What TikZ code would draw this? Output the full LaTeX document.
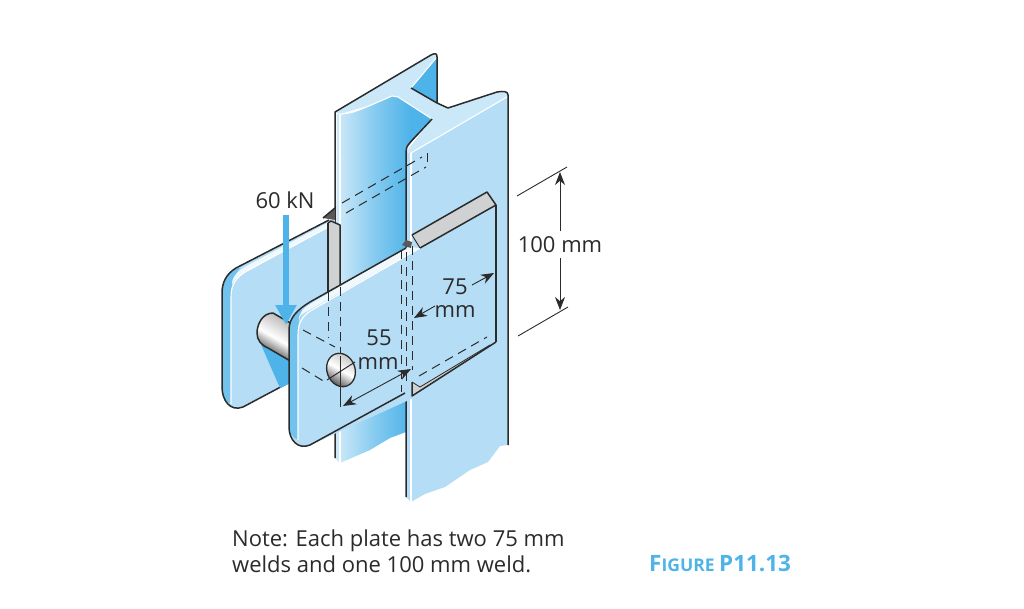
\documentclass[tikz,border=0pt]{standalone}
\usepackage{fontspec}
\setmainfont{Open Sans}
\usepackage{tikz}
\usetikzlibrary{arrows.meta}
\tikzset{>={Stealth[width=10pt,length=13pt]}}
\definecolor{inkline}{HTML}{2B2B2B}
\definecolor{faceblue}{HTML}{B5DDF5}
\definecolor{topblue}{HTML}{CBE8F8}
\definecolor{deepblue}{HTML}{4DB3E8}
\definecolor{bandblue}{HTML}{72C2EE}
\definecolor{weldgray}{HTML}{CFD1D3}
\pgfdeclarehorizontalshading{webshade}{100bp}{color(0bp)=(topblue); color(27bp)=(topblue);
  color(46bp)=(bandblue!80!topblue); color(64bp)=(deepblue); color(100bp)=(deepblue)}
\tikzset{
  outline/.style={draw=inkline,line width=1.5pt,line join=round},
  hidden/.style={draw=inkline,line width=1pt,dash pattern=on 9pt off 6pt},
  gleam/.style={draw=white,line width=1.1pt},
  dimline/.style={draw=inkline,line width=0.9pt},
  dimtext/.style={text=inkline,font=\fontsize{22}{24}\selectfont,inner sep=0pt},
}
\begin{document}
\begin{tikzpicture}[x=1pt,y=-1pt]
\useasboundingbox (0,0) rectangle (1024,608);

%% beam
\fill[deepblue] (411,88)--(437,56)--(437,103)--cycle;
\fill[topblue] (335,112)--(433,54)--(437,55)--(411,88)--(437,103)--(448,108)--(497,92)--(509,93)
  --(509,100)--(411,153)--(406,152)--(432,119)--(398,97)--(340,114)--cycle;
\draw[gleam] (411,88)--(437,57);
\shade[shading=webshade]
  (337,114) .. controls (353,113) .. (392,96)--(398,97)--(432,119)--(407,147)--(406,152)--(406,432)
  --(390,438)--(370,450)--(340,463)--(335,458)--cycle;
\fill[faceblue] (406,152)--(411,153)--(508,97)--(508,445)--(500,446)--(488,462)--(470,470)
  --(445,487)--(425,494)--(411,502)--(406,497)--cycle;
\draw[gleam] (340,114) .. controls (353,113) .. (392,96)--(398,97)--(432,119);
\draw[gleam] (340,114)--(340,463);
\draw[gleam] (411,153)--(507,97);
\draw[gleam] (411,153)--(411,502);
\draw[outline] (335,458)--(335,112)--(431,55) .. controls (435,53) and (437,53) .. (437,57)--(437,103);
\draw[outline] (411,88)--(437,103)--(448,108)--(497,92) .. controls (503,91) and (508,91) .. (508,95)--(508,445);
\draw[outline] (406,497)--(406,152) .. controls (406,145) and (408,145) .. (432,119);

%% dashed slot on the web
\draw[hidden] (342,203)--(422,157);
\draw[hidden] (346,213)--(426,167);
\draw[inkline,line width=1pt] (427,153)--(427,162);

%% rear plate
\fill[gray!70!black] (323,218)--(335,208)--(335,220)--cycle;
\fill[faceblue] (329,220) -- (335,220)--(335,400)--(290,382)--(243,407)
  .. controls (230,412) and (222,400) .. (222,387)--(222,293)
  .. controls (222,283) and (226,274) .. (236,268)--cycle;
\fill[bandblue] (222,293) .. controls (222,283) and (226,274) .. (236,268)--(240,268)
  .. controls (234,276) and (231,284) .. (231,295)--(231,404)
  .. controls (225,402) and (222,395) .. (222,387)--cycle;
\fill[white!70!topblue] (329,222)--(328,228)--(245,272) .. controls (238,276) .. (232,284)
  .. controls (232,277) and (238,270) .. (250,264)--cycle;
\draw[gleam] (328,227)--(247,271) .. controls (236,277) and (231,285) .. (231,297)--(231,404);
\draw[outline] (335,208)--(323,218);
\draw[outline] (329,220)--(236,268) .. controls (226,274) and (222,283) .. (222,293)--(222,387)
  .. controls (222,400) and (230,412) .. (243,407)--(290,382);
\fill[weldgray] (328,223)--(331,221)--(340,225)--(340,288)--(328,296)--cycle;
\draw[outline] (328,223)--(328,294);
\draw[outline] (328,223)--(331,221)--(340,225)--(340,288);
\fill[deepblue] (259,340)--(280,388)--(292,382)--(292,352)--cycle;

%% pin
\shade[top color=gray!55,bottom color=gray!25!black,middle color=white,shading angle=-30]
  (273,313) .. controls (262,313) and (257,325) .. (257,333) .. controls (257,340) and (261,345) .. (268,348)
  --(292,362)--(292,324)--cycle;
\draw[outline] (292,324)--(273,313) .. controls (262,313) and (257,325) .. (257,333)
  .. controls (257,340) and (261,345) .. (268,348)--(292,362);

%% front plate
\fill[faceblue] (405,248)--(420,248)--(420,395)--(310,445) .. controls (298,450) and (289,440) .. (289,427)
  --(289,330) .. controls (289,318) and (297,310) .. (310,302)--cycle;
\fill[bandblue] (289,330) .. controls (289,320) and (295,312) .. (301,309)--(304,312)
  .. controls (299,318) and (298,324) .. (298,333)--(298,440) .. controls (293,438) and (289,433) .. (289,427)--cycle;
\fill[white!70!topblue] (405,248)--(411,247)--(420,248)--(304,313) .. controls (300,316) .. (299,322)
  .. controls (298,314) and (302,309) .. (312,303)--cycle;
\draw[gleam] (420,248)--(312,310) .. controls (302,316) and (298,323) .. (298,335)--(298,440);
\fill[weldgray] (412,235)--(487,192)--(496,205)--(420,248)--cycle;
\draw[inkline,line width=0.9pt] (412,235)--(420,248);
\draw[outline] (412,235)--(487,192)--(496,205)--(420,248);
\draw[outline] (496,205)--(496,342);
\fill[weldgray] (412,396)--(412,382)--(420,387)--(490,345)--(496,342)--cycle;
\draw[inkline,line width=0.8pt] (412,382)--(420,387)--(490,345);
\draw[outline] (412,382)--(412,396)--(496,342);
\draw[outline] (406,248)--(310,302) .. controls (297,310) and (289,318) .. (289,330)--(289,427)
  .. controls (289,440) and (298,450) .. (310,445)--(405,393);
\fill[gray!70!black] (402,245)--(406,240)--(412,242)--(411,248)--cycle;

%% hole and centre lines
\draw[hidden] (303,330)--(335,347);
\draw[hidden] (302,368)--(325,382);
\draw[hidden] (328,292)--(328,338);
\draw[hidden] (340,287)--(340,355);
\shade[top color=gray!50,bottom color=gray!50!black,middle color=white,shading angle=-30,draw=inkline,line width=1.3pt,rotate around={20:(341,370)}]
  (341,370) ellipse (14pt and 17pt);
\draw[inkline,line width=1pt] (327,380)--(355,362);
\draw[inkline,line width=1pt] (340,356)--(340,407);
\draw[hidden] (401,250)--(401,392);
\draw[hidden] (406,252)--(406,382);
\draw[hidden] (412,246)--(412,370);
\draw[hidden] (419,376)--(487,337);

%% dimensions
\coordinate (dimA) at (517,196);
\coordinate (dimB) at (567,167);
\coordinate (dimC) at (518,336);
\coordinate (dimD) at (568,307);
\draw[dimline] (dimA)--(dimB);
\draw[dimline] (dimC)--(dimD);
\node[dimtext] (lbl100) at (560,245) {100 mm};
\node[dimtext] (lbl60) at (285,200) {60 kN};
\node[dimtext] (lbl75a) at (455,287) {75};
\node[dimtext] (lbl75b) at (455,311) {mm};
\node[dimtext] (lbl55a) at (379,338) {55};
\node[dimtext] (lbl55b) at (378,363) {mm};
\draw[dimline,->] (560,231)--(560,172);
\draw[dimline,->] (560,258)--(560,310);
\draw[dimline,->] (472,285)--(494,273);
\draw[dimline,->] (435,306)--(414,318);
\draw[dimline,<->] (343,406)--(411,369);

%% load
\draw[deepblue,line width=6pt,-{Triangle[width=20pt,length=20pt]}] (286,215)--(286,325);

%% captions
\node[anchor=west,text=inkline,font=\fontsize{22}{26}\selectfont,align=left,inner sep=0pt] (note) at (232,551)
  {Note: Each plate has two 75 mm\\welds and one 100 mm weld.};
\node[anchor=west,text=deepblue,font=\bfseries,inner sep=0pt] (fig) at (649,563)
  {\fontsize{22.5}{26}\selectfont F\fontsize{17.5}{26}\selectfont IGURE \fontsize{22.5}{26}\selectfont P11.13};

\end{tikzpicture}
\end{document}
